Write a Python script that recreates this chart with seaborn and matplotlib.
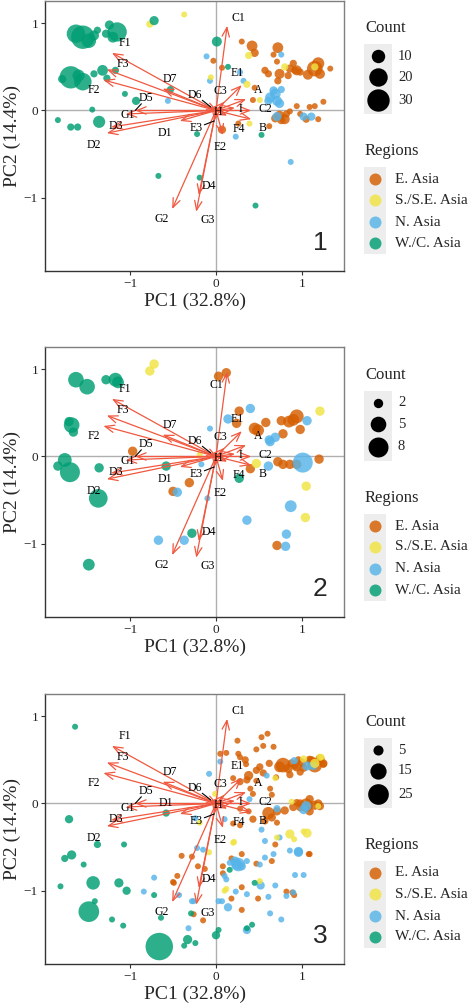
import numpy as np
import pandas as pd
import matplotlib
matplotlib.use("Agg")
import matplotlib.pyplot as plt
import seaborn as sns
from matplotlib.patches import Rectangle

# ---------------- data ----------------
REGIONS = ["E. Asia", "S./S.E. Asia", "N. Asia", "W./C. Asia"]
REGION_COLORS = ["#D55E00", "#F0E442", "#56B4E9", "#009E73"]

VARS = ["A", "B", "C1", "C2", "C3", "D1", "D2", "D3", "D4", "D5", "D6", "D7",
        "E1", "E2", "E3", "F1", "F2", "F3", "F4", "G1", "G2", "G3", "H", "I"]
LOAD_X = [0.35, 0.41, 0.13, 0.41, 0.10, -0.42, -1.27, -1.22, -0.20, -0.94, -0.06, -0.62,
          0.30, 0.08, -0.02, -1.21, -1.31, -1.27, 0.13, -1.05, -0.51, -0.23, 0.02, 0.22]
LOAD_Y = [0.13, -0.10, 0.97, 0.00, 0.10, -0.12, -0.26, -0.19, -0.97, 0.00, 0.04, 0.25,
          0.29, -0.28, -0.12, 0.66, 0.35, 0.47, -0.06, -0.04, -1.13, -1.16, -0.01, 0.03]
LABEL_X = [0.49, 0.54, 0.26, 0.58, 0.05, -0.59, -1.42, -1.17, -0.08, -0.81, -0.24, -0.54,
           0.25, 0.05, -0.23, -1.06, -1.42, -1.08, 0.27, -1.03, -0.63, -0.10, 0.02, 0.28]
LABEL_Y = [0.23, -0.20, 1.06, 0.02, 0.22, -0.26, -0.39, -0.18, -0.87, 0.14, 0.18, 0.36,
           0.43, -0.42, -0.20, 0.77, 0.23, 0.53, -0.21, -0.05, -1.24, -1.26, -0.02, 0.02]
LEADER_VARS = ["D5", "D6", "E3"]
LABEL_OVERRIDE = {2: {"C1": (0.00, 0.82)}, 3: {"D1": (-0.58, 0.00)}}

# points: (PC1, PC2, count)
P1_E = [(0.30, 0.79, 1), (0.42, 0.74, 6), (0.72, 0.72, 6), (0.67, 0.64, 1), (0.45, 0.66, 3),
        (0.71, 0.56, 1), (0.90, 0.54, 2), (1.19, 0.54, 8), (1.15, 0.48, 14), (1.07, 0.41, 5),
        (1.21, 0.42, 5), (1.33, 0.48, 1), (0.94, 0.46, 5), (0.86, 0.48, 3), (0.74, 0.42, 5),
        (0.57, 0.46, 2), (0.61, 0.42, 2), (0.72, 0.34, 2), (0.84, 0.40, 2), (0.98, 0.44, 2),
        (0.92, 0.46, 2), (0.07, 0.49, 1), (-0.03, 0.57, 1), (0.45, 0.26, 1), (0.43, 0.12, 1),
        (1.25, 0.10, 1), (1.15, 0.05, 1), (1.09, 0.04, 1), (0.94, 0.05, 1), (0.86, -0.01, 1),
        (0.74, -0.06, 5), (0.80, -0.10, 5), (0.76, -0.11, 3), (0.69, -0.09, 3), (0.82, -0.04, 2),
        (1.05, -0.10, 2), (1.19, -0.10, 1), (0.98, -0.04, 1), (0.62, -0.18, 1), (0.26, -0.15, 1),
        (0.07, -0.22, 3)]
P1_N = [(-0.56, 0.11, 1), (0.76, 0.64, 1), (-0.11, 0.62, 1), (-0.07, 0.34, 1), (0.28, 0.44, 1),
        (0.32, 0.34, 1), (0.63, 0.15, 5), (0.69, 0.19, 6), (0.71, 0.11, 5), (0.67, 0.23, 3),
        (0.76, 0.24, 2), (0.61, 0.11, 3), (0.74, 0.08, 4), (0.71, -0.07, 4), (1.02, -0.07, 3),
        (1.11, -0.07, 3), (0.23, -0.30, 1), (0.87, -0.59, 1)]
P1_S = [(-0.77, 0.99, 2), (-0.37, 1.10, 1), (0.38, 0.63, 2), (1.15, 0.50, 2), (0.80, 0.50, 2),
        (0.36, 0.30, 2), (0.51, 0.12, 1), (0.39, -0.15, 1), (-0.06, 0.38, 1)]
P1_W = [(-1.55, 0.84, 33), (-1.63, 0.88, 20), (-1.48, 0.80, 12), (-1.42, 0.86, 5), (-1.38, 0.92, 2),
        (-1.15, 0.90, 22), (-1.24, 0.98, 4), (-1.28, 0.88, 3), (-1.20, 0.84, 6), (-1.69, 0.38, 30),
        (-1.55, 0.33, 18), (-1.79, 0.36, 3), (-1.60, 0.40, 8), (-1.32, 0.46, 6), (-1.42, 0.42, 2),
        (-1.27, 0.37, 2), (-1.17, 0.46, 2), (-1.06, 0.19, 1), (-0.93, 0.11, 3), (-1.44, 0.01, 1),
        (-1.84, -0.11, 1), (-1.69, -0.19, 2), (-1.61, -0.19, 2), (-1.36, -0.13, 8), (-0.72, 1.03, 4),
        (-0.53, 0.24, 2), (-0.22, -0.27, 1), (-0.67, -0.75, 1), (-0.19, -0.77, 1), (0.46, -1.09, 1),
        (0.01, 0.79, 5), (0.14, 0.50, 1), (0.53, -0.28, 1)]

P2_E = [(-0.97, 0.06, 2), (-0.50, -0.40, 2), (-0.31, -0.30, 2), (0.03, 0.92, 2), (0.12, 0.96, 2),
        (0.27, 0.52, 2), (0.24, 0.38, 2), (0.58, 0.39, 2), (0.45, 0.32, 3), (0.49, 0.30, 3),
        (0.76, 0.41, 2), (0.85, 0.40, 3), (0.94, 0.46, 4), (0.90, 0.42, 3), (0.98, 0.31, 2),
        (0.78, 0.26, 2), (0.72, -0.06, 2), (0.86, -0.09, 2), (0.78, -0.09, 2), (0.94, -0.09, 2),
        (1.20, -0.03, 2), (0.40, -0.14, 2), (0.71, -1.02, 2)]
P2_N = [(1.06, 0.41, 2), (0.40, 0.55, 2), (0.14, 0.43, 2), (-0.07, 0.32, 1), (0.63, 0.17, 2),
        (0.69, 0.22, 2), (1.01, -0.07, 8), (0.61, -0.11, 2), (0.87, -0.57, 3), (0.36, -0.73, 2),
        (0.82, -0.89, 2), (0.81, -1.03, 2), (-0.10, -0.48, 1), (-0.17, -0.09, 1), (-0.45, -0.41, 2),
        (-0.67, -0.96, 2), (-0.37, -0.96, 2), (0.62, 0.19, 2)]
P2_S = [(-0.72, 1.06, 2), (-0.77, 0.98, 2), (1.21, 0.52, 2), (0.47, -0.08, 2), (1.05, -0.34, 2),
        (1.04, -0.70, 2), (-0.19, 0.02, 1)]
P2_W = [(-1.63, 0.88, 5), (-1.50, 0.80, 5), (-1.28, 0.88, 2), (-1.17, 0.88, 4), (-1.14, 0.85, 3),
        (-1.68, 0.36, 5), (-1.71, 0.40, 2), (-1.66, 0.28, 2), (-1.76, -0.04, 4), (-1.84, -0.11, 2),
        (-1.70, -0.18, 8), (-1.36, -0.13, 2), (-1.37, -0.48, 7), (-1.48, -1.24, 3), (-0.58, -0.11, 2),
        (-0.28, -0.88, 2), (0.27, -0.25, 2)]

P3_E = [(0.53, 0.76, 1), (0.67, 0.65, 1), (0.55, 0.66, 1), (0.47, 0.62, 1), (0.05, 0.57, 1),
        (0.26, 0.57, 1), (0.28, 0.53, 1), (0.25, 0.72, 1), (0.12, 0.58, 1), (0.34, 0.50, 2),
        (0.78, 0.44, 12), (0.74, 0.42, 6), (0.84, 0.40, 4), (0.94, 0.42, 4), (0.98, 0.36, 2),
        (1.15, 0.44, 12), (1.25, 0.46, 3), (1.21, 0.51, 4), (1.11, 0.49, 4), (0.86, 0.33, 2),
        (0.51, 0.42, 2), (0.47, 0.38, 2), (0.38, 0.32, 4), (0.36, 0.27, 2), (0.47, 0.26, 1),
        (0.20, 0.29, 1), (0.28, 0.25, 2), (0.43, 0.11, 1), (0.40, 0.17, 1), (0.63, 0.17, 1),
        (0.65, 0.10, 1), (0.61, -0.11, 8), (0.65, -0.16, 3), (0.71, -0.09, 3), (0.80, -0.08, 3),
        (0.90, -0.04, 3), (0.98, 0.00, 3), (1.05, -0.02, 10), (1.15, -0.02, 4), (1.19, 0.00, 3),
        (0.57, -0.20, 2), (0.43, -0.18, 2), (0.28, -0.25, 1), (0.20, -0.23, 1), (0.28, -0.06, 1),
        (0.38, -0.09, 1), (0.96, 0.50, 2), (1.09, 0.50, 3), (1.21, 0.50, 3), (1.25, 0.45, 2),
        (0.92, 0.43, 2), (1.02, 0.41, 3), (1.09, 0.05, 3), (0.94, 0.01, 2), (1.21, -0.03, 3),
        (1.09, -0.09, 3), (0.98, -0.05, 2), (1.08, -0.58, 1), (0.89, -1.02, 1), (0.71, -0.22, 1),
        (0.69, -0.47, 1), (1.09, -0.58, 1), (0.65, -0.66, 1), (0.47, -0.69, 1), (0.30, -0.58, 1),
        (0.08, -0.72, 1), (0.18, -0.63, 1), (0.30, -0.96, 1), (0.18, -1.09, 1), (0.49, -1.09, 1),
        (0.82, -1.01, 1), (0.91, -1.05, 1), (0.30, -1.22, 1), (-0.15, -1.34, 1), (-0.26, -1.27, 1),
        (-0.28, -0.61, 1), (-0.13, -0.75, 1), (0.08, -0.80, 1), (-0.21, -0.72, 1), (-0.45, -0.83, 1),
        (-0.49, -0.91, 1), (-0.40, -0.60, 1), (-0.50, -0.90, 1), (0.35, 0.45, 1), (0.60, 0.80, 1),
        (0.70, 0.30, 1), (0.55, 0.35, 2), (0.62, 0.46, 2), (1.00, 0.47, 3), (0.88, 0.46, 3)]
P3_N = [(0.53, -0.30, 1), (0.57, -0.43, 1), (0.74, -0.39, 1), (0.86, -0.54, 1), (0.96, -0.55, 4),
        (0.26, -0.70, 10), (0.22, -0.66, 4), (0.30, -0.72, 3), (0.16, -0.68, 1), (0.36, -0.66, 1),
        (0.57, -0.62, 1), (0.67, -0.58, 1), (0.51, -0.70, 1), (0.10, -0.83, 1), (0.12, -0.87, 1),
        (0.52, -0.94, 3), (0.69, -0.94, 1), (0.92, -0.82, 1), (1.02, -0.82, 1), (0.82, -1.06, 1),
        (0.90, -1.02, 1), (0.61, -1.07, 1), (0.36, -1.04, 1), (0.23, -1.01, 1), (0.03, -1.12, 1),
        (0.07, -1.12, 1), (0.14, -1.19, 3), (0.63, -1.26, 1), (0.76, -1.33, 1), (0.36, -1.45, 3),
        (-0.26, -1.12, 1), (-0.32, -1.43, 1), (-0.15, -0.53, 1), (-0.72, -0.85, 1), (-0.84, -1.01, 1),
        (-0.43, -1.05, 1), (-0.28, -1.12, 1), (-0.24, -0.17, 1), (-0.22, -0.51, 1), (-0.08, 0.34, 1),
        (0.91, 0.49, 2), (1.06, 0.43, 4), (1.13, 0.43, 3), (0.05, 0.48, 1), (0.59, 0.32, 1),
        (0.39, 0.05, 1), (1.02, -0.07, 4), (0.71, -0.06, 2), (0.10, -0.18, 1), (1.05, -0.03, 5),
        (0.96, -0.56, 4), (0.24, -0.70, 6)]
P3_S = [(1.15, 0.46, 4), (1.02, 0.51, 2), (1.21, 0.53, 2), (0.69, 0.29, 1), (0.88, 0.02, 1),
        (-0.01, 0.11, 1), (0.86, -0.35, 4), (1.06, -0.34, 4), (0.71, -0.39, 1), (0.20, -0.45, 1),
        (-0.08, -0.56, 1), (0.10, -1.00, 1), (0.51, -0.89, 1), (1.02, -0.32, 1), (0.91, -0.41, 1),
        (1.23, 0.53, 1), (1.19, -0.03, 1), (-0.19, -0.22, 1), (0.21, -0.44, 1), (0.12, -0.98, 1)]
P3_W = [(-1.64, 0.88, 1), (-1.71, -0.18, 3), (-1.38, -0.47, 2), (-1.07, -0.47, 1), (-1.76, -0.63, 2),
        (-1.68, -0.59, 4), (-1.54, -0.70, 1), (-1.81, -0.95, 1), (-1.43, -0.91, 10), (-1.13, -0.91, 4),
        (-1.04, -1.00, 3), (-1.41, -1.12, 1), (-1.48, -1.24, 25), (-1.21, -1.33, 1), (-1.08, -1.40, 1),
        (-0.66, -1.64, 45), (-0.64, -1.31, 1), (-0.72, -1.05, 1), (-0.58, -0.11, 2), (-0.33, -1.56, 4),
        (-0.37, -1.63, 1), (-0.24, -1.60, 1), (-0.29, -1.26, 1), (0.00, -1.51, 3), (0.03, -1.45, 1),
        (0.16, -0.76, 1), (0.42, -1.39, 1), (0.45, -0.91, 1), (0.36, -1.43, 1)]

PANEL_POINTS = {1: [P1_E, P1_N, P1_S, P1_W], 2: [P2_E, P2_N, P2_S, P2_W], 3: [P3_E, P3_N, P3_S, P3_W]}
DRAW_ORDER = ["E. Asia", "N. Asia", "S./S.E. Asia", "W./C. Asia"]
COUNT_BREAKS = {1: [10, 20, 30], 2: [2, 5, 8], 3: [5, 15, 25]}
COUNT_MAX = {1: 35, 2: 8, 3: 45}

X_LABEL = "PC1 (32.8%)"
Y_LABEL = "PC2 (14.4%)"

# ---------------- style ----------------
sns.set_theme(style="white")
plt.rcParams["font.family"] = ["Liberation Serif", "DejaVu Serif"]
plt.rcParams["axes.unicode_minus"] = True

W, H = 474, 1006
DPI = 100
fig = plt.figure(figsize=(W / DPI, H / DPI), dpi=DPI)

ARROW = "#F0583F"
PALETTE = dict(zip(REGIONS, REGION_COLORS))
ALPHA = 0.82
S_MIN = (0.72 * 6) ** 2
D_MAX_SQ = {1: 36 + 16 * (COUNT_MAX[1] - 1), 2: 400, 3: 36 + 16.3 * (COUNT_MAX[3] - 1)}

panel_px = {1: (1, 271), 2: (347, 617), 3: (694, 964)}
ax_left, ax_right = 45, 344


def size_for(panel, c):
    smax = 0.5184 * D_MAX_SQ[panel]
    return S_MIN + (smax - S_MIN) * (c - 1) / (COUNT_MAX[panel] - 1)


overlay = fig.add_axes([0, 0, 1, 1], zorder=5)
overlay.set_xlim(0, W)
overlay.set_ylim(H, 0)
overlay.axis("off")
overlay.patch.set_alpha(0)

for panel in (1, 2, 3):
    top, bot = panel_px[panel]
    ax = fig.add_axes([ax_left / W, 1 - bot / H, (ax_right - ax_left) / W, (bot - top) / H])

    frames = []
    for reg, pts in zip(DRAW_ORDER, PANEL_POINTS[panel]):
        frames.append(pd.DataFrame(pts, columns=["PC1", "PC2", "Count"]).assign(Region=reg))
    df = pd.concat(frames, ignore_index=True)

    ax.axhline(0, color="#B0B0B0", lw=1.0, zorder=0)
    ax.axvline(0, color="#B0B0B0", lw=1.0, zorder=0)

    smax = 0.5184 * D_MAX_SQ[panel]
    sns.scatterplot(data=df, x="PC1", y="PC2", hue="Region", hue_order=REGIONS,
                    palette=PALETTE, size="Count", sizes=(S_MIN, smax),
                    size_norm=(1, COUNT_MAX[panel]), alpha=ALPHA, linewidth=0,
                    legend=False, ax=ax, zorder=2)

    overrides = LABEL_OVERRIDE.get(panel, {})
    for v, lx0, ly0, tx, ty in zip(VARS, LOAD_X, LOAD_Y, LABEL_X, LABEL_Y):
        ax.annotate("", xy=(lx0, ly0), xytext=(0, 0),
                    arrowprops=dict(arrowstyle="->,head_length=0.55,head_width=0.22",
                                    color=ARROW, lw=0.9, shrinkA=0, shrinkB=0), zorder=3)
        tx, ty = overrides.get(v, (tx, ty))
        ax.text(tx, ty, v, fontsize=8.5, ha="center", va="center", color="black", zorder=4)
        if v in LEADER_VARS:
            sx = tx + 0.45 * (lx0 - tx)
            sy = ty + 0.45 * (ly0 - ty)
            ax.plot([sx, lx0], [sy, ly0], color="black", lw=0.8, zorder=4)

    ax.set_xlim(-1.99, 1.49)
    ax.set_ylim(-1.84, 1.255)
    ax.set_xticks([-1, 0, 1])
    ax.set_yticks([-1, 0, 1])
    ax.tick_params(axis="both", which="both", length=3, width=0.8, color="#333333",
                   labelsize=9.5, pad=2, labelcolor="#222222")
    ax.tick_params(bottom=True, left=True)
    ax.set_xlabel(X_LABEL, fontsize=14, labelpad=2)
    ax.set_ylabel(Y_LABEL, fontsize=14, labelpad=2)
    for side in ("left", "bottom"):
        ax.spines[side].set_color("#333333")
        ax.spines[side].set_linewidth(1.0)
    for side in ("top", "right"):
        ax.spines[side].set_color("#7F7F7F")
        ax.spines[side].set_linewidth(1.0)
    ax.text(0.92, 0.105, str(panel), transform=ax.transAxes, fontsize=19,
            family=["Liberation Sans", "DejaVu Sans"], ha="center", va="center")

    # ---- legends ----
    T = top - 1 if panel == 1 else top
    overlay.text(365, T + 28, "Count", fontsize=12, ha="left", va="center")
    overlay.add_patch(Rectangle((364, T + 44), 28, 70, facecolor="#EDEDED", edgecolor="none"))
    for yy, c in zip((T + 56, T + 77, T + 100), COUNT_BREAKS[panel]):
        overlay.scatter([378], [yy], s=size_for(panel, c), color="black", linewidths=0)
        overlay.text(398, yy, str(c), fontsize=10.5, ha="left", va="center")

    overlay.text(365, T + 151, "Regions", fontsize=12, ha="left", va="center")
    overlay.add_patch(Rectangle((364, T + 167), 22, 87, facecolor="#EDEDED", edgecolor="none"))
    for yy, reg in zip((T + 179, T + 200, T + 222, T + 243), REGIONS):
        overlay.scatter([375.5], [yy], s=(0.72 * 12) ** 2, color=PALETTE[reg], alpha=ALPHA,
                        linewidths=0)
        overlay.text(395, yy, reg, fontsize=11, ha="left", va="center")

fig.savefig("out.png", dpi=DPI)
